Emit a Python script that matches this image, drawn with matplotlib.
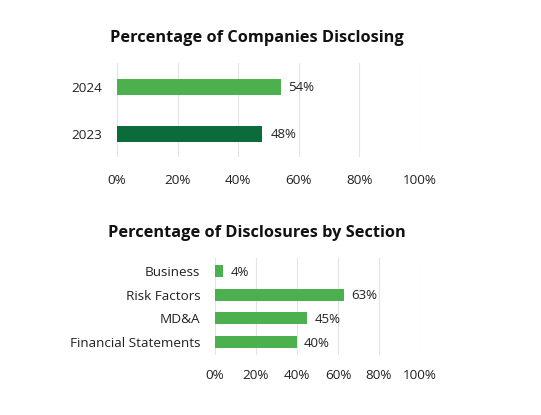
import numpy as np
import matplotlib
matplotlib.use("Agg")
import matplotlib.pyplot as plt

plt.rcParams["font.family"] = ["Open Sans", "DejaVu Sans"]

# top chart: companies disclosing
years = ["2023", "2024"]
year_pct = [48, 54]
year_colors = ["#0B6B3A", "#4CB04F"]

# bottom chart: disclosures by section (listed bottom to top)
sections = ["Financial Statements", "MD&A", "Risk Factors", "Business"]
section_pct = [40, 45, 63, 4]

ticks = [0, 20, 40, 60, 80, 100]
tick_labels = ["0%", "20%", "40%", "60%", "80%", "100%"]

GRID = "#E3E3E3"
TXT = "#222222"


def style_axis(ax, pad):
    ax.set_xlim(0, 100)
    ax.set_xticks(ticks)
    ax.set_xticklabels(tick_labels, fontsize=9.7, color=TXT)
    ax.grid(axis="x", color=GRID, lw=0.8)
    ax.set_axisbelow(True)
    for s in ax.spines.values():
        s.set_visible(False)
    ax.tick_params(axis="x", length=0, pad=pad)
    ax.tick_params(axis="y", length=0, pad=10.5, labelsize=9.7, labelcolor=TXT)


fig = plt.figure(figsize=(5.41, 4.15), dpi=100)

ax1 = fig.add_axes([0.2163, 0.6217, 0.56, 0.2265])
y1 = np.arange(len(years))
ax1.barh(y1, year_pct, height=0.34, color=year_colors)
ax1.set_yticks(y1)
ax1.set_yticklabels(years)
ax1.set_ylim(-0.49, 1.51)
style_axis(ax1, 12.5)
for y, v in zip(y1, year_pct):
    ax1.text(v + 2.6, y - 0.02, f"{v}%", va="center", ha="left", fontsize=9.5, color=TXT)
fig.text(0.475, 0.908, "Percentage of Companies Disclosing", ha="center", va="center",
         fontsize=11.8, fontweight="bold", color="#111111")

ax2 = fig.add_axes([0.3974, 0.1446, 0.3789, 0.2337])
y2 = np.arange(len(sections))
ax2.barh(y2, section_pct, height=0.5, color="#4CB04F")
ax2.set_yticks(y2)
ax2.set_yticklabels(sections)
ax2.set_ylim(-0.55, 3.55)
style_axis(ax2, 10)
for y, v in zip(y2, section_pct):
    ax2.text(v + 3.5, y - 0.05, f"{v}%", va="center", ha="left", fontsize=9.5, color=TXT)
fig.text(0.475, 0.438, "Percentage of Disclosures by Section", ha="center", va="center",
         fontsize=11.8, fontweight="bold", color="#111111")

fig.savefig("out.png", dpi=100, facecolor="white")
